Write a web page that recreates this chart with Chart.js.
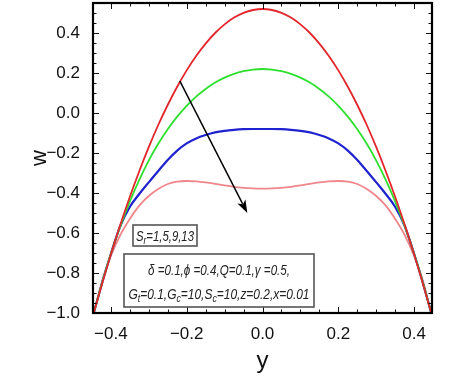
<!DOCTYPE html>
<html><head><meta charset="utf-8">
<script src="https://cdn.jsdelivr.net/npm/chart.js@4/dist/chart.umd.min.js"></script>
<style>html,body{margin:0;padding:0;background:#fff}#wrap{width:474px;height:387px;position:relative}</style>
</head><body><div id="wrap"><canvas id="c" width="474" height="387"></canvas></div>
<script>
// ---- data ----
const yPos = [-0.445,-0.42,-0.4,-0.375,-0.35,-0.325,-0.3,-0.275,-0.25,-0.225,-0.2,-0.175,-0.15,-0.125,-0.1,-0.075,-0.05,-0.025,0,
  0.025,0.05,0.075,0.1,0.125,0.15,0.175,0.2,0.225,0.25,0.275,0.3,0.325,0.35,0.375,0.4,0.42,0.445];
const wSr1 = [-1.0,-0.834,-0.708,-0.559,-0.420,-0.291,-0.171,-0.060,0.040,0.131,0.213,0.285,0.347,0.400,0.443,0.477,0.501,0.515,0.520,
  0.515,0.501,0.477,0.443,0.400,0.347,0.285,0.213,0.131,0.040,-0.060,-0.171,-0.291,-0.420,-0.559,-0.708,-0.834,-1.0];
const wSr5 = [-1.0,-0.829,-0.705,-0.566,-0.443,-0.334,-0.238,-0.154,-0.081,-0.018,0.036,0.082,0.120,0.152,0.177,0.196,0.209,0.217,0.220,
  0.217,0.209,0.196,0.177,0.152,0.120,0.082,0.036,-0.018,-0.081,-0.154,-0.238,-0.334,-0.443,-0.566,-0.705,-0.829,-1.0];
const wSr9 = [-1.0,-0.830,-0.705,-0.565,-0.470,-0.405,-0.347,-0.290,-0.235,-0.188,-0.152,-0.127,-0.110,-0.097,-0.089,-0.084,-0.081,-0.080,-0.080,
  -0.080,-0.081,-0.084,-0.089,-0.097,-0.110,-0.127,-0.152,-0.188,-0.235,-0.290,-0.347,-0.405,-0.470,-0.565,-0.705,-0.830,-1.0];
const wSr13 = [-1.0,-0.820,-0.715,-0.610,-0.530,-0.463,-0.415,-0.380,-0.355,-0.343,-0.340,-0.342,-0.347,-0.354,-0.362,-0.369,-0.374,-0.377,-0.378,
  -0.377,-0.374,-0.369,-0.362,-0.354,-0.347,-0.342,-0.340,-0.343,-0.355,-0.380,-0.415,-0.463,-0.530,-0.610,-0.715,-0.820,-1.0];
const seriesNames = ['Sr=1','Sr=5','Sr=9','Sr=13'];
const xTickValues = [-0.4,-0.2,0,0.2,0.4];
const yTickValues = [-1.0,-0.8,-0.6,-0.4,-0.2,0.0,0.2,0.4];
const minorStep = 0.05;

const colors = ['#e3262b','#2ee02e','#1f22cf','#f0868c'];
const widths = [1.8,1.8,2.2,1.8];
const allW = [wSr1,wSr5,wSr9,wSr13];

const datasets = allW.map((w,i)=>({
  label: seriesNames[i],
  data: yPos.map((p,k)=>({x:p,y:w[k]})),
  borderColor: colors[i], borderWidth: widths[i],
  pointRadius: 0, showLine: true, fill: false,
  cubicInterpolationMode: 'monotone'
}));

const fmt = v => { const s = Math.abs(v).toFixed(1); return (v < -1e-9 ? '\u2212' : '') + s; };
const tickFont = {family: "'Liberation Sans','Arial',sans-serif", size: 17};

function minorList(min, max, majors){
  const out = [];
  for (let v = Math.ceil(min/minorStep)*minorStep; v <= max + 1e-9; v += minorStep) {
    const r = Math.round(v*1000)/1000;
    if (!majors.some(m => Math.abs(m - r) < 1e-6)) out.push(r);
  }
  return out;
}

const framePlugin = {
  id: 'frame',
  afterDatasetsDraw(chart, args, o) {
    const {ctx, chartArea: a, scales: {x, y}} = chart;
    ctx.save();
    const line = (x1,y1,x2,y2) => { ctx.beginPath(); ctx.moveTo(x1,y1); ctx.lineTo(x2,y2); ctx.stroke(); };
    ctx.strokeStyle = '#111'; ctx.lineWidth = 1;
    const xMin = minorList(x.min, x.max, xTickValues), yMin = minorList(y.min, y.max, yTickValues);
    const tx = (v,len) => { const p = Math.round(x.getPixelForValue(v))+0.5; if (p < a.left+1 || p > a.right-1) return; line(p,a.bottom,p,a.bottom-len); line(p,a.top,p,a.top+len); };
    const ty = (v,len) => { const p = Math.round(y.getPixelForValue(v))+0.5; if (p < a.top+1 || p > a.bottom-1) return; line(a.left,p,a.left+len,p); line(a.right,p,a.right-len,p); };
    xTickValues.forEach(v=>tx(v,6)); xMin.forEach(v=>tx(v,3.5));
    yTickValues.forEach(v=>ty(v,6)); yMin.forEach(v=>ty(v,3.5));
    // frame
    ctx.lineWidth = 2.2; ctx.strokeStyle = '#000';
    ctx.strokeRect(a.left, a.top, a.right - a.left, a.bottom - a.top);

    // arrow (data coordinates)
    const ar = o.arrow;
    const x1 = x.getPixelForValue(ar.from[0]), y1 = y.getPixelForValue(ar.from[1]);
    const x2 = x.getPixelForValue(ar.to[0]), y2 = y.getPixelForValue(ar.to[1]);
    const ang = Math.atan2(y2-y1, x2-x1), hl = 13, hw = 4.5;
    ctx.lineWidth = 1.6; ctx.strokeStyle = '#000'; ctx.fillStyle = '#000';
    line(x1, y1, x2 - hl*Math.cos(ang)*0.8, y2 - hl*Math.sin(ang)*0.8);
    ctx.beginPath();
    ctx.moveTo(x2, y2);
    ctx.lineTo(x2 - hl*Math.cos(ang) + hw*Math.sin(ang), y2 - hl*Math.sin(ang) - hw*Math.cos(ang));
    ctx.lineTo(x2 - hl*0.75*Math.cos(ang), y2 - hl*0.75*Math.sin(ang));
    ctx.lineTo(x2 - hl*Math.cos(ang) - hw*Math.sin(ang), y2 - hl*Math.sin(ang) + hw*Math.cos(ang));
    ctx.closePath(); ctx.fill();

    // text boxes
    const fam = "'Liberation Sans','Arial',sans-serif";
    const drawRich = (segs, cx, base, size, maxW) => {
      const mainF = `italic ${size}px ${fam}`, subF = `italic ${Math.round(size*0.7)}px ${fam}`;
      let w = 0;
      segs.forEach(s => { ctx.font = s.sub ? subF : mainF; w += ctx.measureText(s.t).width; });
      const sc = Math.min(1, maxW / w);
      ctx.save();
      ctx.translate(cx - w*sc/2, base);
      ctx.scale(sc, 1);
      let px = 0;
      segs.forEach(s => {
        ctx.font = s.sub ? subF : mainF;
        ctx.fillText(s.t, px, s.sub ? size*0.22 : 0);
        px += ctx.measureText(s.t).width;
      });
      ctx.restore();
    };
    ctx.textBaseline = 'alphabetic';
    o.boxes.forEach(b => {
      const bx = a.left + b.left, by = a.top + b.top;
      ctx.fillStyle = '#fff'; ctx.fillRect(bx, by, b.w, b.h);
      ctx.strokeStyle = '#555'; ctx.lineWidth = 1.6; ctx.strokeRect(bx, by, b.w, b.h);
      ctx.fillStyle = '#222';
      b.lines.forEach(l => drawRich(l.segs, bx + b.w/2, a.top + l.base, b.size, l.maxW));
    });
    ctx.restore();
  }
};

new Chart(document.getElementById('c'), {
  type: 'scatter',
  data: { datasets },
  options: {
    responsive: false, animation: false, devicePixelRatio: 1,
    layout: { padding: { left: 0, right: 42, top: 3, bottom: 0 } },
    plugins: {
      legend: { display: false }, tooltip: { enabled: false },
      frame: {
        arrow: { from: [-0.218, 0.16], to: [-0.040, -0.50] },
        boxes: [
          { left: 40, top: 222, w: 64, h: 21, size: 15,
            lines: [ { base: 238, maxW: 58, segs: [{t:'S'},{t:'r',sub:true},{t:'=1,5,9,13'}] } ] },
          { left: 31, top: 251, w: 190, h: 53, size: 15,
            lines: [
              { base: 272, maxW: 142, segs: [{t:'\u03b4 =0.1,\u03d5 =0.4,Q=0.1,\u03b3 =0.5,'}] },
              { base: 296, maxW: 181, segs: [{t:'G'},{t:'t',sub:true},{t:'=0.1,G'},{t:'c',sub:true},{t:'=10,S'},{t:'c',sub:true},{t:'=10,z=0.2,x=0.01'}] }
            ] }
        ]
      }
    },
    scales: {
      x: {
        type: 'linear', min: -0.447, max: 0.447,
        grid: { display: false }, border: { display: false },
        afterBuildTicks: s => { s.ticks = xTickValues.map(v => ({value: v})); },
        afterFit: s => { s.height = 74; s.paddingLeft = 0; s.paddingRight = 0; },
        ticks: { color: '#111', font: tickFont, padding: 3, callback: v => fmt(v), maxRotation: 0 },
        title: { display: true, text: 'y', color: '#111', font: {family: "'Liberation Sans',sans-serif", size: 24}, padding: {top: 0, bottom: 11} }
      },
      y: {
        type: 'linear', min: -1.0, max: 0.55,
        grid: { display: false }, border: { display: false },
        afterBuildTicks: s => { s.ticks = yTickValues.map(v => ({value: v})); },
        afterFit: s => { s.width = 93; s.paddingTop = 0; s.paddingBottom = 0; },
        ticks: { color: '#111', font: tickFont, padding: 5, callback: v => fmt(v) },
        title: { display: true, text: 'w', color: '#111', font: {family: "'Liberation Sans',sans-serif", size: 22}, padding: {top: 27, bottom: 0} }
      }
    }
  },
  plugins: [framePlugin]
});
</script>
</body></html>
